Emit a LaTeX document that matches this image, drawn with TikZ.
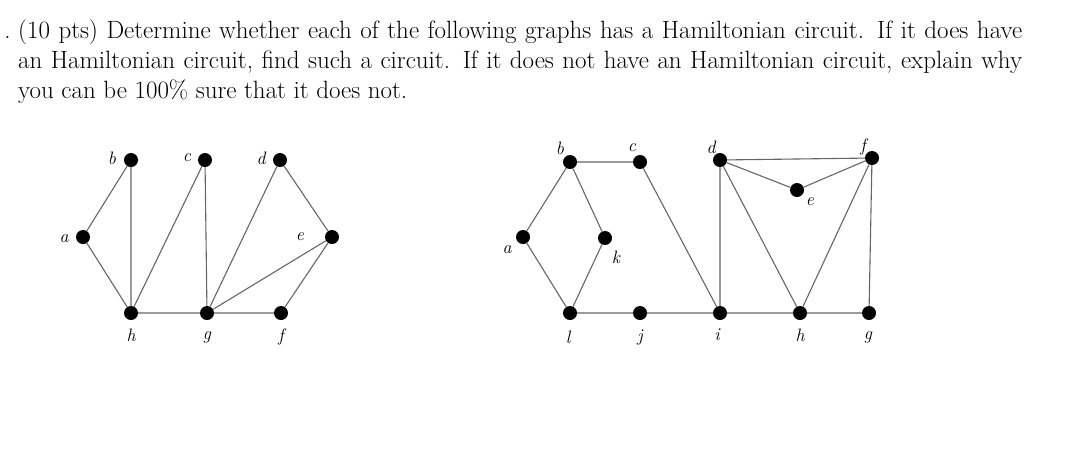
\documentclass[tikz,border=0pt]{standalone}
\usepackage{fontspec}
\begin{document}
\begin{tikzpicture}[x=1pt,y=-1pt,
  v/.style={circle,fill=black,inner sep=0pt,minimum size=14pt},
  e/.style={draw=black!60,line width=1.1pt},
  lb/.style={font=\fontsize{18}{18}\selectfont\itshape,inner sep=0pt}]
\useasboundingbox (0,0) rectangle (1081,475);
\node[anchor=north west,inner sep=0pt,text width=1004pt,align=justify,font=\fontsize{25}{30}\selectfont] (txt) at (18,20)
{\llap{.\ }(10 pts) Determine whether each of the following graphs has a Hamiltonian circuit. If it does have an Hamiltonian circuit, find such a circuit. If it does not have an Hamiltonian circuit, explain why you can be 100\% sure that it does not.};
% left graph
\node[v] (a) at (83,237) {}; \node[v] (b) at (131,160) {}; \node[v] (c) at (205,160) {};
\node[v] (d) at (280,160) {}; \node[v] (ee) at (332,237) {}; \node[v] (h) at (131,313) {};
\node[v] (g) at (207,313) {}; \node[v] (f) at (281,313) {};
\draw[e] (a)--(b) (a)--(h) (b)--(h) (h)--(c) (c)--(g) (h)--(g) (g)--(f) (g)--(d) (g)--(ee) (d)--(ee) (ee)--(f);
\node[lb] (la) at (64,239) {a}; \node[lb] (lb1) at (112,158) {b}; \node[lb] (lc) at (187,158) {c};
\node[lb] (ld) at (261,158) {d}; \node[lb] (le) at (300,237) {e}; \node[lb] (lh) at (131,335) {h};
\node[lb] (lg) at (207,337) {g}; \node[lb] (lf) at (281,337) {f};
% right graph
\node[v] (A) at (523,237) {}; \node[v] (B) at (570,162) {}; \node[v] (C) at (640,162) {};
\node[v] (D) at (720,160) {}; \node[v] (F) at (872,158) {}; \node[v] (E) at (797,190) {};
\node[v] (K) at (605,238) {}; \node[v] (L) at (570,313) {}; \node[v] (J) at (640,313) {};
\node[v] (I) at (720,313) {}; \node[v] (H) at (800,313) {}; \node[v] (G) at (869,313) {};
\draw[e] (A)--(B) (B)--(C) (B)--(K) (A)--(L) (K)--(L) (L)--(J) (J)--(I) (I)--(H) (H)--(G)
 (C)--(I) (D)--(I) (D)--(F) (D)--(E) (E)--(F) (D)--(H) (F)--(H) (F)--(G);
\node[lb] (lA) at (507,250) {a}; \node[lb] (lB) at (560,148) {b}; \node[lb] (lC) at (632,148) {c};
\node[lb] (lD) at (711,147) {d}; \node[lb] (lF) at (863,147) {f}; \node[lb] (lE) at (810,202) {e};
\node[lb] (lK) at (616,257) {k}; \node[lb] (lL) at (568,337) {l}; \node[lb] (lJ) at (640,337) {j};
\node[lb] (lI) at (717,335) {i}; \node[lb] (lH) at (800,335) {h}; \node[lb] (lG) at (868,337) {g};
\end{tikzpicture}
\end{document}
